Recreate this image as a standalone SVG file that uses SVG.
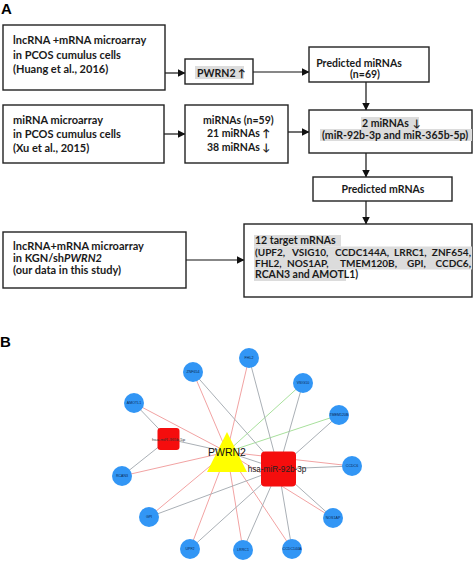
<svg xmlns="http://www.w3.org/2000/svg" width="474" height="562" viewBox="0 0 474 562">
<defs>
<marker id="ah" markerWidth="8" markerHeight="8" refX="7.5" refY="4" orient="auto" markerUnits="userSpaceOnUse">
<path d="M0,0 L8,4 L0,8 Z" fill="#111"/>
</marker>
<style>
.box{fill:#fff;stroke:#222;stroke-width:1.4}
.t{font-family:Lato,"Liberation Sans",sans-serif;font-weight:bold;font-size:10.5px;fill:#1a1a1a}
.tl{font-size:11px}
.ts{font-size:10px}
.hl{fill:#dcdcdc}
.ar{stroke:#111;stroke-width:1.2;fill:none;marker-end:url(#ah)}
.pl{font-family:"Liberation Sans",Arial,sans-serif;font-weight:bold;font-size:15px;fill:#000}
.ep{stroke:#f2a3a3;stroke-width:1}
.eg{stroke:#aab0b6;stroke-width:1}
.eG{stroke:#a8e09c;stroke-width:1}
.mn{fill:#3296f5}
.ml{font-family:"Liberation Sans",Arial,sans-serif;font-size:3.6px;fill:#0b2750;text-anchor:middle}
.mir{fill:#f50d0d}
</style>
</defs>
<rect width="474" height="562" fill="#fff"/>
<text class="pl" x="1" y="13.5">A</text>
<text class="pl" x="0" y="347">B</text>

<g id="connectors">
<line class="ar" x1="165" y1="73" x2="185" y2="73"/>
<line class="ar" x1="253" y1="72" x2="309" y2="72"/>
<line class="ar" x1="366" y1="82" x2="366" y2="110"/>
<line class="ar" x1="164" y1="134" x2="185" y2="134"/>
<line class="ar" x1="288" y1="132" x2="309" y2="132"/>
<line class="ar" x1="366" y1="153" x2="366" y2="177"/>
<line class="ar" x1="366" y1="201" x2="366" y2="224"/>
<line class="ar" x1="186" y1="260" x2="244" y2="260"/>
</g>

<g id="box-huang">
<rect class="box" x="3" y="25" width="162" height="65"/>
<text class="t tl" x="13" y="44">lncRNA +mRNA microarray</text>
<text class="t tl" x="13" y="58.5">in PCOS cumulus cells</text>
<text class="t tl" x="13" y="73">(Huang et al., 2016)</text>
</g>
<g id="box-pwrn2">
<rect class="box" x="185" y="59" width="68" height="25"/>
<rect class="hl" x="195" y="66" width="49" height="13"/>
<text class="t" x="197" y="76.5">PWRN2 ↑</text>
</g>
<g id="box-pred-mirna">
<rect class="box" x="309" y="47" width="120" height="35"/>
<text class="t" x="359" y="67" text-anchor="middle">Predicted miRNAs</text>
<text class="t" x="365" y="78" text-anchor="middle">(n=69)</text>
</g>
<g id="box-xu">
<rect class="box" x="3" y="105" width="161" height="58"/>
<text class="t tl" x="13" y="124">miRNA microarray</text>
<text class="t tl" x="13" y="138">in PCOS cumulus cells</text>
<text class="t tl" x="13" y="152">(Xu et al., 2015)</text>
</g>
<g id="box-mirnas">
<rect class="box" x="185" y="105" width="103" height="58"/>
<text class="t" x="203" y="124">miRNAs (n=59)</text>
<text class="t" x="207" y="137">21 miRNAs ↑</text>
<text class="t" x="207" y="151">38 miRNAs ↓</text>
</g>
<g id="box-2mirnas">
<rect class="box" x="309" y="110" width="163" height="43"/>
<rect class="hl" x="361" y="117" width="58" height="12"/>
<rect class="hl" x="320" y="129" width="152" height="12"/>
<text class="t" y="127"><tspan x="362">2 miRNAs</tspan><tspan x="413">↓</tspan></text>
<text class="t" x="322" y="138.5">(miR-92b-3p and miR-365b-5p)</text>
</g>
<g id="box-pred-mrna">
<rect class="box" x="313" y="177" width="139" height="24"/>
<text class="t" x="383" y="193" text-anchor="middle">Predicted mRNAs</text>
</g>
<g id="box-kgn">
<rect class="box" x="3" y="232" width="183" height="56"/>
<text class="t tl" x="13" y="250">lncRNA+mRNA microarray</text>
<text class="t tl" x="13" y="262">in KGN/sh<tspan font-style="italic">PWRN2</tspan></text>
<text class="t tl" x="13" y="273.5">(our data in this study)</text>
</g>
<g id="box-targets">
<rect class="box" x="244" y="224" width="228" height="73"/>
<rect class="hl" x="254" y="235" width="87" height="11.5"/>
<rect class="hl" x="254" y="246.5" width="218" height="23"/>
<rect class="hl" x="254" y="269.5" width="92" height="11.5"/>
<text class="t" x="255" y="244">12 target mRNAs</text>
<text class="t ts" y="256"><tspan x="255">(UPF2,</tspan><tspan x="292">VSIG10,</tspan><tspan x="335">CCDC144A,</tspan><tspan x="394">LRRC1,</tspan><tspan x="471" text-anchor="end">ZNF654,</tspan></text>
<text class="t ts" y="267"><tspan x="255">FHL2,</tspan><tspan x="287">NOS1AP,</tspan><tspan x="340">TMEM120B,</tspan><tspan x="407">GPI,</tspan><tspan x="471" text-anchor="end">CCDC6,</tspan></text>
<text class="t" x="255" y="278">RCAN3 and AMOTL1)</text>
</g>

<g id="network-edges">
<line class="ep" x1="227" y1="452" x2="249" y2="358"/>
<line class="ep" x1="227" y1="452" x2="193" y2="372"/>
<line class="ep" x1="227" y1="452" x2="134" y2="403"/>
<line class="ep" x1="227" y1="452" x2="122" y2="476"/>
<line class="ep" x1="227" y1="452" x2="149" y2="517"/>
<line class="ep" x1="227" y1="452" x2="190" y2="549"/>
<line class="ep" x1="227" y1="452" x2="243" y2="550"/>
<line class="ep" x1="227" y1="452" x2="292" y2="549"/>
<line class="ep" x1="227" y1="452" x2="333" y2="518"/>
<line class="ep" x1="227" y1="452" x2="352" y2="466"/>
<line class="eG" x1="227" y1="452" x2="303" y2="383"/>
<line class="eG" x1="227" y1="452" x2="339" y2="415"/>
<line class="eg" x1="278.5" y1="469" x2="249" y2="358"/>
<line class="eg" x1="278.5" y1="469" x2="193" y2="372"/>
<line class="eg" x1="278.5" y1="469" x2="303" y2="383"/>
<line class="eg" x1="278.5" y1="469" x2="339" y2="415"/>
<line class="eg" x1="278.5" y1="469" x2="352" y2="466"/>
<line class="eg" x1="278.5" y1="469" x2="333" y2="518"/>
<line class="eg" x1="278.5" y1="469" x2="292" y2="549"/>
<line class="eg" x1="278.5" y1="469" x2="243" y2="550"/>
<line class="eg" x1="278.5" y1="469" x2="190" y2="549"/>
<line class="eg" x1="278.5" y1="469" x2="149" y2="517"/>
<line class="eg" x1="168.5" y1="439" x2="134" y2="403"/>
<line class="eg" x1="168.5" y1="439" x2="122" y2="476"/>
<line class="eg" x1="168.5" y1="439" x2="227" y2="452"/>
<line class="eg" x1="278.5" y1="469" x2="227" y2="452"/>
</g>

<g id="n-FHL2"><circle class="mn" cx="249" cy="358" r="10"/><text class="ml" x="249" y="359.3">FHL2</text></g>
<g id="n-ZNF654"><circle class="mn" cx="193" cy="372" r="10"/><text class="ml" x="193" y="373.3">ZNF654</text></g>
<g id="n-VSIG10"><circle class="mn" cx="303" cy="383" r="10"/><text class="ml" x="303" y="384.3">VSIG10</text></g>
<g id="n-TMEM120B"><circle class="mn" cx="339" cy="415" r="10"/><text class="ml" x="339" y="416.3">TMEM120B</text></g>
<g id="n-AMOTL1"><circle class="mn" cx="134" cy="403" r="10"/><text class="ml" x="134" y="404.3">AMOTL1</text></g>
<g id="n-CCDC6"><circle class="mn" cx="352" cy="466" r="10"/><text class="ml" x="352" y="467.3">CCDC6</text></g>
<g id="n-RCAN3"><circle class="mn" cx="122" cy="476" r="10"/><text class="ml" x="122" y="477.3">RCAN3</text></g>
<g id="n-NOS1AP"><circle class="mn" cx="333" cy="518" r="10"/><text class="ml" x="333" y="519.3">NOS1AP</text></g>
<g id="n-GPI"><circle class="mn" cx="149" cy="517" r="10"/><text class="ml" x="149" y="518.3">GPI</text></g>
<g id="n-UPF2"><circle class="mn" cx="190" cy="549" r="10"/><text class="ml" x="190" y="550.3">UPF2</text></g>
<g id="n-LRRC1"><circle class="mn" cx="243" cy="550" r="10"/><text class="ml" x="243" y="551.3">LRRC1</text></g>
<g id="n-CCDC144A"><circle class="mn" cx="292" cy="549" r="10"/><text class="ml" x="292" y="550.3">CCDC144A</text></g>

<g id="n-miR365b">
<rect class="mir" x="157.5" y="428" width="22" height="22" rx="3"/>
<text x="168.5" y="440.5" font-family="Liberation Sans, Arial, sans-serif" font-size="4.3" fill="#333" text-anchor="middle">hsa-miR-365b-5p</text>
</g>
<g id="n-PWRN2">
<polygon points="227,432 247,472 207,472" fill="#ffff00"/>
<text x="227" y="456" font-family="Liberation Sans, Arial, sans-serif" font-size="10.5" fill="#111" text-anchor="middle">PWRN2</text>
</g>
<g id="n-miR92b">
<rect class="mir" x="261" y="451.5" width="35" height="35" rx="4"/>
<text x="277" y="472" font-family="Liberation Sans, Arial, sans-serif" font-size="8.2" fill="#222" text-anchor="middle">hsa-miR-92b-3p</text>
</g>
</svg>
